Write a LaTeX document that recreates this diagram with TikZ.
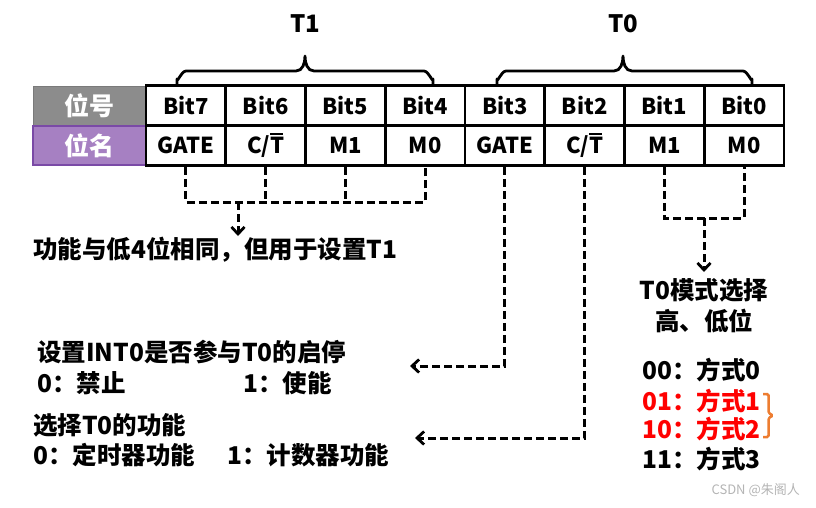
\documentclass[tikz,border=0pt]{standalone}
\usepackage{fontspec}
\setmainfont{Noto Sans CJK SC}
\usetikzlibrary{arrows.meta}
\definecolor{hdrgray}{HTML}{8C8C8C}
\definecolor{hdrgrayb}{HTML}{7A7A7A}
\definecolor{hdrpurp}{HTML}{A680C2}
\definecolor{hdrpurpb}{HTML}{7A4AA6}
\definecolor{brorange}{HTML}{ED7D31}
\definecolor{wmgray}{HTML}{B4B4B4}
\newcommand{\ctbar}{C/\rlap{\rule[0.86em]{0.58em}{2pt}}T}
\begin{document}
\begin{tikzpicture}[x=1pt,y=-1pt,
  cell/.style={draw=black,line width=2.8pt,minimum width=79.75pt,minimum height=40pt,inner sep=0pt,font=\fontsize{22}{24}\selectfont\bfseries},
  hdr/.style={minimum width=113pt,minimum height=39pt,inner sep=0pt,text=white,font=\fontsize{25}{26}\selectfont\bfseries},
  note/.style={anchor=west,inner sep=0pt,font=\fontsize{24.5}{28}\selectfont\bfseries},
  dsh/.style={line width=3pt,dash pattern=on 8pt off 4pt},
  arr/.style={dsh,-{Straight Barb[length=7pt,width=13pt,line width=2.8pt]}},
  brc/.style={line width=2.8pt,line join=round}]
\useasboundingbox (0,0) rectangle (816,507);
% header cells
\node[hdr,fill=hdrgray,draw=hdrgrayb,line width=1pt] (h1) at (89.5,105.5) {位号};
\node[hdr,fill=hdrpurp,draw=hdrpurpb,line width=1.5pt] (h2) at (89.5,145.5) {位名};
% table cells
\foreach \i/\b/\n [count=\k from 0] in {7/Bit7/GATE,6/Bit6/\ctbar,5/Bit5/M1,4/Bit4/M0,3/Bit3/GATE,2/Bit2/\ctbar,1/Bit1/M1,0/Bit0/M0}{
  \node[cell] (a\i) at (185.9+79.75*\k,105.5) {\b};
  \node[cell] (b\i) at (185.9+79.75*\k,145.5) {\n};
}
% braces
\draw[brc] (177,84) -- (177,79) to[out=-90,in=180] (186,71) -- (296,71) to[out=0,in=-90] (305,56) to[out=-90,in=180] (314,71) -- (424,71) to[out=0,in=-90] (433,79) -- (433,84);
\draw[brc] (497,84) -- (497,79) to[out=-90,in=180] (506,71) -- (614,71) to[out=0,in=-90] (623,56) to[out=-90,in=180] (632,71) -- (743,71) to[out=0,in=-90] (752,79) -- (752,84);
\node[font=\fontsize{24}{26}\selectfont\bfseries] (t1) at (305,24) {T1};
\node[font=\fontsize{24}{26}\selectfont\bfseries] (t0) at (623,24) {T0};
% T1 dashed group
\coordinate (j7) at (b7.south |- 0,202);
\coordinate (j4) at (b4.south |- 0,202);
\draw[dsh] (b7.south) -- (j7) -- (j4) -- (b4.south);
\draw[dsh] (b6.south) -- (b6.south |- 0,202);
\draw[dsh] (b5.south) -- (b5.south |- 0,202);
\node[note] (n1) at (33,250) {功能与低4位相同，但用于设置T1};
\coordinate (s1) at (238,202);
\coordinate (e1) at (238,236);
\draw[arr] (s1) -- (e1);
% T0 mode group
\coordinate (j1) at (b1.south |- 0,218);
\coordinate (j0) at (b0.south |- 0,218);
\draw[dsh] (b1.south) -- (j1) -- (j0) -- (b0.south);
\node[font=\fontsize{24.5}{31}\selectfont\bfseries,align=center,inner sep=0pt] (n4) at (704,306) {T0模式选择\\高、低位};
\coordinate (s4) at (704,218);
\coordinate (e4) at (704,272);
\draw[arr] (s4) -- (e4);
% GATE T0
\node[note] (n2a) at (37,352) {设置INT0是否参与T0的启停};
\node[note] (n2b) at (37,383) {0：禁止};
\node[note] (n2c) at (243,383) {1：使能};
\coordinate (e2) at (410,366);
\draw[arr] (b3.south) |- (e2);
% C/T T0
\node[note] (n3a) at (33,425) {选择T0的功能};
\node[note] (n3b) at (33,455) {0：定时器功能};
\node[note] (n3c) at (227,455) {1：计数器功能};
\coordinate (e3) at (415,438);
\draw[arr] (b2.south) |- (e3);
% modes
\node[note] (m0) at (642,370) {00：方式0};
\node[note,text=red] (m1) at (642,401) {01：方式1};
\node[note,text=red] (m2) at (642,429) {10：方式2};
\node[note] (m3) at (642,459) {11：方式3};
\draw[brorange,line width=2.5pt,rounded corners=1.5pt] (763,394) -- (768.5,394) -- (768.5,413) -- (773,415.5) -- (768.5,418) -- (768.5,437) -- (763,437);
% watermark
\node[anchor=east,inner sep=0pt,text=wmgray,font=\fontsize{13}{15}\selectfont] (wm) at (800,490) {CSDN @朱阁人};
\end{tikzpicture}
\end{document}
